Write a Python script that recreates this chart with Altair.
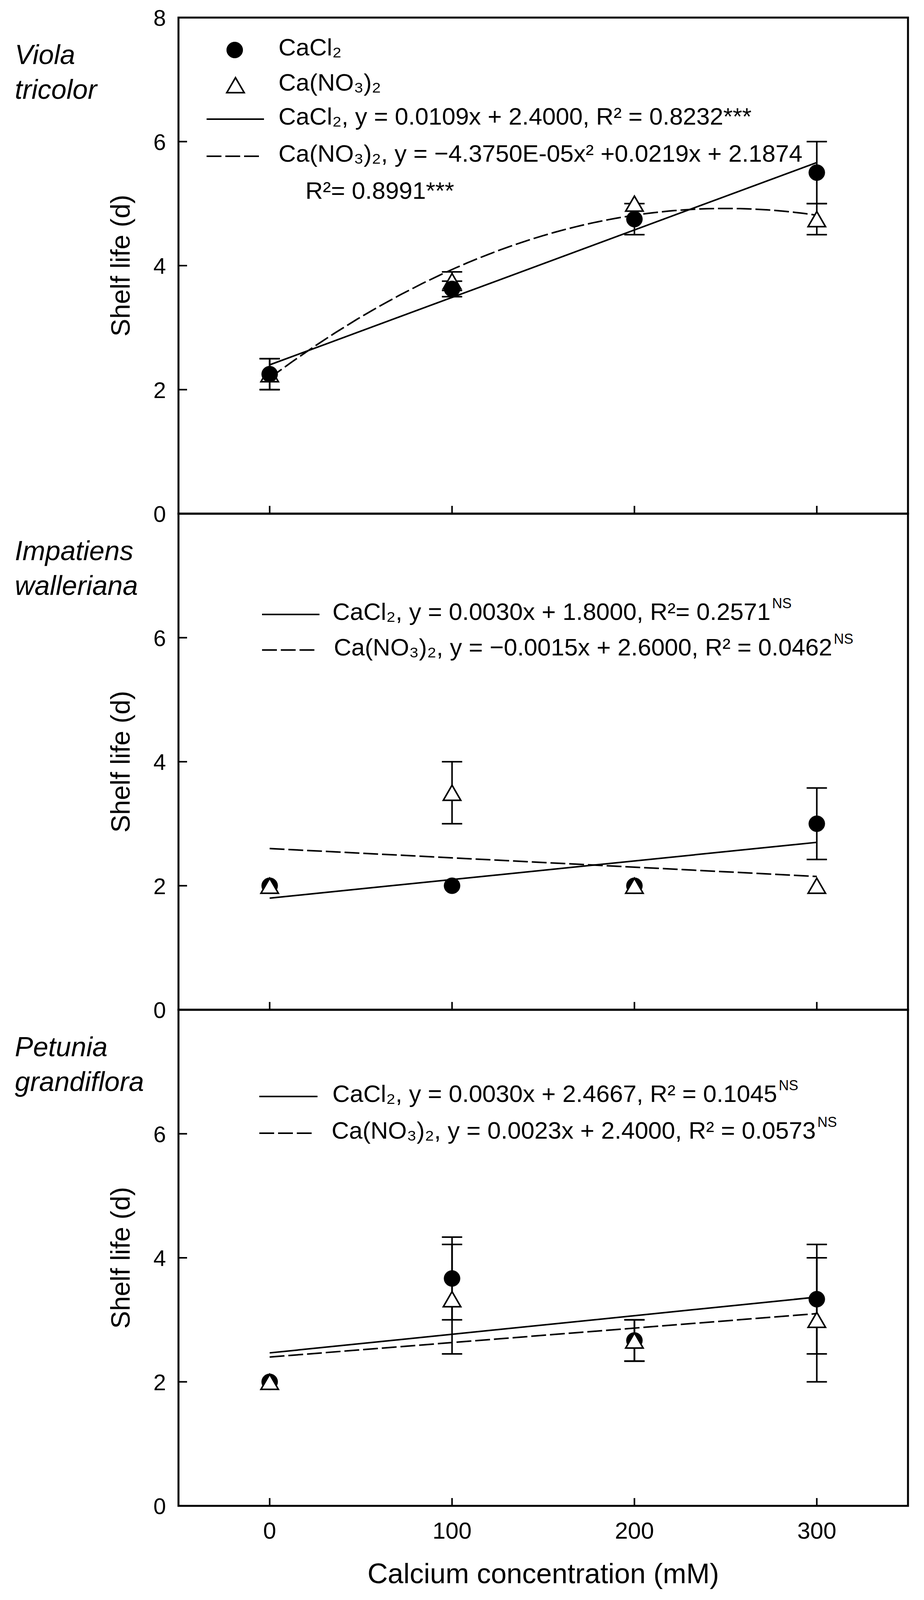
import altair as alt
import pandas as pd

# ---------------- data ----------------
conc = [0, 100, 200, 300]
x_ticks = [0, 100, 200, 300]
y_ticks_top = [0, 2, 4, 6, 8]
y_ticks = [0, 2, 4, 6]

viola_cacl2 = [2.25, 3.625, 4.75, 5.5]
viola_cacl2_err = [0.25, 0.125, 0.25, 0.5]
viola_cano3 = [2.25, 3.75, 5.0, 4.75]
viola_cano3_err = [0.25, 0.15, 0.0, 0.25]

impatiens_cacl2 = [2.0, 2.0, 2.0, 3.0]
impatiens_cacl2_err = [0.0, 0.0, 0.0, 0.577]
impatiens_cano3 = [2.0, 3.5, 2.0, 2.0]
impatiens_cano3_err = [0.0, 0.5, 0.0, 0.0]

petunia_cacl2 = [2.0, 3.667, 2.667, 3.333]
petunia_cacl2_err = [0.0, 0.667, 0.333, 0.882]
petunia_cano3 = [2.0, 3.333, 2.667, 3.0]
petunia_cano3_err = [0.0, 0.882, 0.333, 1.0]

species_viola = "Viola\ntricolor"
species_impatiens = "Impatiens\nwalleriana"
species_petunia = "Petunia\ngrandiflora"

y_title = "Shelf life (d)"
x_title = "Calcium concentration (mM)"

leg_viola = [
    "CaCl\u2082",
    "Ca(NO\u2083)\u2082",
    "CaCl\u2082, y = 0.0109x + 2.4000, R\u00b2 = 0.8232***",
    "Ca(NO\u2083)\u2082, y = \u22124.3750E-05x\u00b2 +0.0219x + 2.1874",
    "R\u00b2= 0.8991***",
]
leg_impatiens = [
    "CaCl\u2082, y = 0.0030x + 1.8000, R\u00b2= 0.2571",
    "Ca(NO\u2083)\u2082, y = \u22120.0015x + 2.6000, R\u00b2 = 0.0462",
]
leg_petunia = [
    "CaCl\u2082, y = 0.0030x + 2.4667, R\u00b2 = 0.1045",
    "Ca(NO\u2083)\u2082, y = 0.0023x + 2.4000, R\u00b2 = 0.0573",
]
sig_ns = "NS"

# ---------------- styling ----------------
FONT = "Liberation Sans, Arial, Helvetica, sans-serif"
VS = 0.97                      # vertical fit factor so the page fits the visible window
W, H = 1868, 1270
LW = 4
DASH = [38, 10]
TXT = 62


def vy(v):
    return round(v * VS)


xscale = alt.Scale(domain=[-50, 350], nice=False, zero=False)
yscale = alt.Scale(domain=[0, 8], nice=False, zero=False)
X = alt.X("conc:Q", scale=xscale, axis=None)

ONE = [{"k": 1}]


def txt(s, x, y, size=TXT, align="left", style="normal", angle=0, baseline="alphabetic",
        multiline=False):
    kw = dict(align=align, baseline=baseline, fontSize=size, font=FONT, fontStyle=style,
              color="black", angle=angle)
    if multiline:
        kw.update(lineBreak="\n", lineHeight=vy(92))
    return alt.Chart(alt.Data(values=[{"t": s}])).mark_text(**kw).encode(
        x=alt.value(x), y=alt.value(y), text="t:N")


def sample(x1, x2, y, dashed=False):
    kw = dict(strokeWidth=LW, color="black", strokeCap="butt")
    if dashed:
        kw["strokeDash"] = DASH
    return alt.Chart(alt.Data(values=ONE)).mark_rule(**kw).encode(
        x=alt.value(x1), x2=alt.value(x2), y=alt.value(y))


CIRCLE = dict(shape="circle", filled=True, fill="black", stroke="black", strokeWidth=1,
              size=1700, opacity=1)
TRIANGLE = dict(shape="triangle-up", filled=True, fill="white", stroke="black",
                strokeWidth=LW, size=2000, opacity=1)


def sym(style, x, y):
    return alt.Chart(alt.Data(values=ONE)).mark_point(**style).encode(
        x=alt.value(x), y=alt.value(y))


def panel(c_mean, c_err, n_mean, n_err, species, yvals, legend, show_x, circle_top, poly):
    Y = lambda f: alt.Y(f, scale=yscale, axis=None)
    dc = pd.DataFrame({"conc": conc, "mean": c_mean, "err": c_err})
    dn = pd.DataFrame({"conc": conc, "mean": n_mean, "err": n_err})

    def fit(df, dashed, order):
        kw = dict(strokeWidth=LW, color="black", strokeCap="butt")
        if dashed:
            kw["strokeDash"] = DASH
        base = alt.Chart(df)
        if order == 2:
            base = base.transform_regression("conc", "mean", method="poly", order=2)
        else:
            base = base.transform_regression("conc", "mean", method="linear")
        return base.mark_line(**kw).encode(x=X, y=Y("mean:Q"))

    def errs(df):
        b = alt.Chart(df).transform_filter("datum.err > 0").transform_calculate(
            lo="datum.mean - datum.err", hi="datum.mean + datum.err")
        r = b.mark_rule(strokeWidth=LW, color="black").encode(x=X, y=Y("lo:Q"), y2="hi:Q")
        t1 = b.mark_tick(orient="horizontal", size=52, thickness=LW, color="black",
                         opacity=1).encode(x=X, y=Y("lo:Q"))
        t2 = b.mark_tick(orient="horizontal", size=52, thickness=LW, color="black",
                         opacity=1).encode(x=X, y=Y("hi:Q"))
        return [r, t1, t2]

    circ = alt.Chart(dc).mark_point(**CIRCLE).encode(x=X, y=Y("mean:Q"))
    tri = alt.Chart(dn).mark_point(**TRIANGLE).encode(x=X, y=Y("mean:Q"))

    yt = pd.DataFrame({"v": yvals})
    xt = pd.DataFrame({"c": x_ticks})
    ytk = alt.Chart(yt).mark_rule(strokeWidth=LW, color="black").encode(
        y=Y("v:Q"), x=alt.value(0), x2=alt.value(22))
    ylab = alt.Chart(yt).mark_text(align="right", baseline="alphabetic", dy=21, fontSize=58,
                                   font=FONT, color="black").encode(
        y=Y("v:Q"), x=alt.value(-32), text=alt.Text("v:Q", format="d"))
    xtk = alt.Chart(xt).mark_rule(strokeWidth=LW, color="black").encode(
        x=alt.X("c:Q", scale=xscale, axis=None), y=alt.value(H), y2=alt.value(H - 20))
    frame = alt.Chart(alt.Data(values=ONE)).mark_rect(
        fill="white", fillOpacity=0, stroke="black", strokeWidth=5).encode(
        x=alt.value(0), x2=alt.value(W), y=alt.value(0), y2=alt.value(H))

    layers = [fit(dc, False, 1), fit(dn, True, 2 if poly else 1)]
    layers += errs(dc) + errs(dn)
    layers += [tri, circ] if circle_top else [circ, tri]
    layers += [ytk, xtk, ylab, frame]
    layers += [txt(species, -419, vy(123), size=70, style="italic", multiline=True),
               txt(y_title, -145, H / 2, size=68, align="center", angle=270, baseline="middle")]
    if show_x:
        xlab = alt.Chart(xt).mark_text(align="center", baseline="alphabetic", fontSize=60,
                                       font=FONT, color="black").encode(
            x=alt.X("c:Q", scale=xscale, axis=None), y=alt.value(H + 84),
            text=alt.Text("c:Q", format="d"))
        layers += [xlab, txt(x_title, W / 2, H + 198, size=72, align="center")]
    layers += legend
    return alt.layer(*layers).properties(width=W, height=H)


legend1 = [
    sym(CIRCLE, 144, vy(86)), txt(leg_viola[0], 256, vy(86) + 14),
    sym(TRIANGLE, 146, vy(178)), txt(leg_viola[1], 256, vy(178) + 14),
    sample(72, 219, vy(268)), txt(leg_viola[2], 256, vy(268) + 14),
    sample(72, 207, vy(366), dashed=True), txt(leg_viola[3], 256, vy(366) + 14),
    txt(leg_viola[4], 325, vy(478)),
]
legend2 = [
    sample(214, 361, vy(266)), txt(leg_impatiens[0], 1516, vy(266) + 14, align="right"),
    txt(sig_ns, 1520, vy(266) - 16, size=36),
    sample(214, 349, vy(360), dashed=True), txt(leg_impatiens[1], 1674, vy(360) + 14, align="right"),
    txt(sig_ns, 1678, vy(360) - 16, size=36),
]
legend3 = [
    sample(207, 356, vy(229)), txt(leg_petunia[0], 1533, vy(229) + 14, align="right"),
    txt(sig_ns, 1537, vy(229) - 16, size=36),
    sample(207, 342, vy(326), dashed=True), txt(leg_petunia[1], 1632, vy(326) + 14, align="right"),
    txt(sig_ns, 1636, vy(326) - 16, size=36),
]

p1 = panel(viola_cacl2, viola_cacl2_err, viola_cano3, viola_cano3_err, species_viola,
           y_ticks_top, legend1, False, True, True)
p2 = panel(impatiens_cacl2, impatiens_cacl2_err, impatiens_cano3, impatiens_cano3_err,
           species_impatiens, y_ticks, legend2, False, False, False)
p3 = panel(petunia_cacl2, petunia_cacl2_err, petunia_cano3, petunia_cano3_err,
           species_petunia, y_ticks, legend3, True, False, False)

chart = alt.vconcat(p1, p2, p3, spacing=0, bounds="flush").properties(
    padding={"left": 30, "top": 12, "right": 20, "bottom": 10},
    background="white",
).configure_view(strokeWidth=0)

chart.save("out.html", embed_options={"renderer": "svg", "actions": False})
